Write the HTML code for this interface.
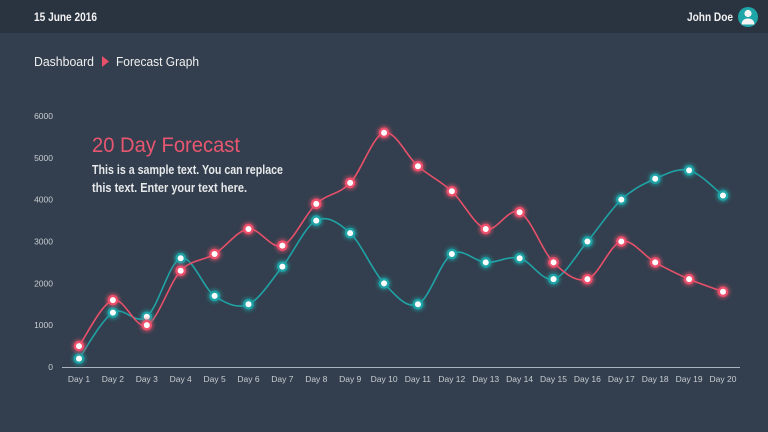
<!DOCTYPE html>
<html><head><meta charset="utf-8"><style>
html,body{margin:0;padding:0;background:#333f4e;}
svg{display:block;}
text{font-family:"Liberation Sans",sans-serif;}
</style></head><body>
<svg id="s" width="768" height="432" viewBox="0 0 768 432" xmlns="http://www.w3.org/2000/svg">
<defs>
<filter id="glow" x="-50%" y="-50%" width="200%" height="200%"><feGaussianBlur stdDeviation="1.6"/></filter>
</defs>
<rect x="0" y="0" width="768" height="432" fill="#333f4e"/>
<rect x="0" y="0" width="768" height="33" fill="#2a3441"/>
<text x="34" y="21" font-size="12" font-weight="bold" fill="#f2f2f2" textLength="63" lengthAdjust="spacingAndGlyphs">15 June 2016</text>
<text x="687" y="21" font-size="12" font-weight="bold" fill="#f2f2f2" textLength="46" lengthAdjust="spacingAndGlyphs">John Doe</text>
<circle cx="748" cy="17" r="10" fill="#1ea5a8"/>
<circle cx="748" cy="13.5" r="3.6" fill="#f4f4f4"/>
<path d="M741.5 24.5 Q742 18.5 748 18.5 Q754 18.5 754.5 24.5 Z" fill="#f4f4f4"/>
<text x="34" y="66" font-size="13" fill="#f0f0f0" textLength="60" lengthAdjust="spacingAndGlyphs">Dashboard</text>
<path d="M102 56 L109 61.5 L102 67 Z" fill="#e8506a"/>
<text x="116" y="66" font-size="13" fill="#f0f0f0" textLength="83" lengthAdjust="spacingAndGlyphs">Forecast Graph</text>
<text x="92" y="152" font-size="21" fill="#e8566f" textLength="148" lengthAdjust="spacingAndGlyphs">20 Day Forecast</text>
<text x="92" y="174" font-size="12.5" font-weight="bold" fill="#e6e8ea" textLength="191" lengthAdjust="spacingAndGlyphs">This is a sample text. You can replace</text>
<text x="92" y="192" font-size="12.5" font-weight="bold" fill="#e6e8ea" textLength="155" lengthAdjust="spacingAndGlyphs">this text. Enter your text here.</text>
<g id="yl" font-size="8.5" fill="#c9cdd2" text-anchor="end"></g>
<g id="xl" font-size="8.5" fill="#c9cdd2" text-anchor="middle"></g>
<line x1="62" y1="367.5" x2="740" y2="367.5" stroke="#aab4be" stroke-width="1"/>
<g id="series"></g>
</svg>
<script>
var red=[500,1600,1000,2300,2700,3300,2900,3900,4400,5600,4800,4200,3300,3700,2500,2100,3000,2500,2100,1800];
var teal=[200,1300,1200,2600,1700,1500,2400,3500,3200,2000,1500,2700,2500,2600,2100,3000,4000,4500,4700,4100];
var NS="http://www.w3.org/2000/svg";
function X(i){return 79+i*(644/19);}
function Y(v){return 367-v*(251/6000);}
function el(n,a,p){var e=document.createElementNS(NS,n);for(var k in a)e.setAttribute(k,a[k]);p.appendChild(e);return e;}
var yl=document.getElementById('yl'),xl=document.getElementById('xl'),sg=document.getElementById('series');
for(var v=0;v<=6000;v+=1000){var t=el('text',{x:53,y:(Y(v)+3).toFixed(1)},yl);t.textContent=v;}
for(var i=0;i<20;i++){var t=el('text',{x:X(i).toFixed(1),y:382},xl);t.textContent='Day '+(i+1);}
function path(d){
 var p=d.map(function(v,i){return [X(i),Y(v)];});
 var s='M'+p[0][0].toFixed(2)+' '+p[0][1].toFixed(2);
 var k=1/6;
 for(var i=0;i<p.length-1;i++){
  var p0=p[i-1]||p[i],p1=p[i],p2=p[i+1],p3=p[i+2]||p[i+1];
  var c1=[p1[0]+(p2[0]-p0[0])*k,p1[1]+(p2[1]-p0[1])*k];
  var c2=[p2[0]-(p3[0]-p1[0])*k,p2[1]-(p3[1]-p1[1])*k];
  s+=' C'+c1[0].toFixed(2)+' '+c1[1].toFixed(2)+' '+c2[0].toFixed(2)+' '+c2[1].toFixed(2)+' '+p2[0].toFixed(2)+' '+p2[1].toFixed(2);
 }
 return s;
}
function series(d,col){
 el('path',{d:path(d),fill:'none',stroke:col,'stroke-width':1.6},sg);
}
function markers(d,col){
 for(var i=0;i<d.length;i++){
  var cx=X(i).toFixed(2),cy=Y(d[i]).toFixed(2);
  el('circle',{cx:cx,cy:cy,r:7,fill:col,opacity:0.55,filter:'url(#glow)'},sg);
  el('circle',{cx:cx,cy:cy,r:5.3,fill:col},sg);
  el('circle',{cx:cx,cy:cy,r:3,fill:'#ffffff'},sg);
 }
}
series(teal,'#1fa3a6');
series(red,'#e8506a');
markers(teal,'#1fa3a6');
markers(red,'#ec4f6b');
</script>
</body></html>
